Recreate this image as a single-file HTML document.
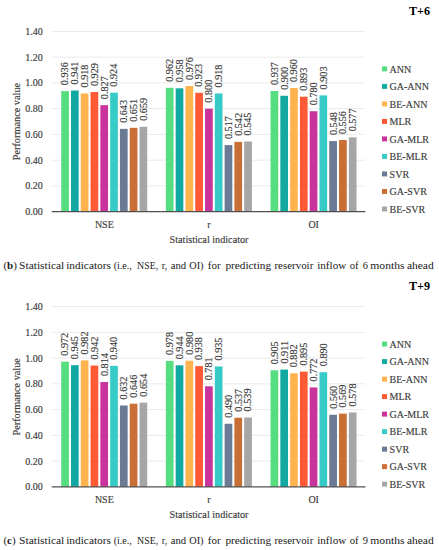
<!DOCTYPE html>
<html><head><meta charset="utf-8"><style>
html,body{margin:0;padding:0;background:#fff;width:439px;height:550px;overflow:hidden}
svg{display:block;font-family:"Liberation Serif",serif}
.t{stroke:#333;stroke-width:0.15}
</style></head><body>
<svg width="439" height="550" viewBox="0 0 439 550">
<rect width="439" height="550" fill="#fff"/>
<line x1="51.5" x2="365.0" y1="185.90" y2="185.90" stroke="#EAEAEA" stroke-width="1"/>
<line x1="51.5" x2="365.0" y1="160.15" y2="160.15" stroke="#EAEAEA" stroke-width="1"/>
<line x1="51.5" x2="365.0" y1="134.40" y2="134.40" stroke="#EAEAEA" stroke-width="1"/>
<line x1="51.5" x2="365.0" y1="108.65" y2="108.65" stroke="#EAEAEA" stroke-width="1"/>
<line x1="51.5" x2="365.0" y1="82.90" y2="82.90" stroke="#EAEAEA" stroke-width="1"/>
<line x1="51.5" x2="365.0" y1="57.15" y2="57.15" stroke="#EAEAEA" stroke-width="1"/>
<line x1="51.5" x2="365.0" y1="31.40" y2="31.40" stroke="#EAEAEA" stroke-width="1"/>
<text x="42.8" y="215.05" text-anchor="end" font-size="10.0" fill="#404040" class="t">0.00</text>
<text x="42.8" y="189.30" text-anchor="end" font-size="10.0" fill="#404040" class="t">0.20</text>
<text x="42.8" y="163.55" text-anchor="end" font-size="10.0" fill="#404040" class="t">0.40</text>
<text x="42.8" y="137.80" text-anchor="end" font-size="10.0" fill="#404040" class="t">0.60</text>
<text x="42.8" y="112.05" text-anchor="end" font-size="10.0" fill="#404040" class="t">0.80</text>
<text x="42.8" y="86.30" text-anchor="end" font-size="10.0" fill="#404040" class="t">1.00</text>
<text x="42.8" y="60.55" text-anchor="end" font-size="10.0" fill="#404040" class="t">1.20</text>
<text x="42.8" y="34.80" text-anchor="end" font-size="10.0" fill="#404040" class="t">1.40</text>
<rect x="61.20" y="91.14" width="7.7" height="120.51" fill="#55DD80"/>
<text transform="translate(68.45,85.14) rotate(-90)" font-size="10.2" fill="#404040" class="t">0.936</text>
<rect x="70.99" y="90.50" width="7.7" height="121.15" fill="#12A9A2"/>
<text transform="translate(78.24,84.50) rotate(-90)" font-size="10.2" fill="#404040" class="t">0.941</text>
<rect x="80.78" y="93.46" width="7.7" height="118.19" fill="#FFB34F"/>
<text transform="translate(88.03,87.46) rotate(-90)" font-size="10.2" fill="#404040" class="t">0.918</text>
<rect x="90.57" y="92.04" width="7.7" height="119.61" fill="#FF5A35"/>
<text transform="translate(97.82,86.04) rotate(-90)" font-size="10.2" fill="#404040" class="t">0.929</text>
<rect x="100.36" y="105.17" width="7.7" height="106.48" fill="#C8339C"/>
<text transform="translate(107.61,99.17) rotate(-90)" font-size="10.2" fill="#404040" class="t">0.827</text>
<rect x="110.15" y="92.69" width="7.7" height="118.97" fill="#37CBC8"/>
<text transform="translate(117.40,86.69) rotate(-90)" font-size="10.2" fill="#404040" class="t">0.924</text>
<rect x="119.94" y="128.86" width="7.7" height="82.79" fill="#6B7A95"/>
<text transform="translate(127.19,122.86) rotate(-90)" font-size="10.2" fill="#404040" class="t">0.643</text>
<rect x="129.73" y="127.83" width="7.7" height="83.82" fill="#C96E34"/>
<text transform="translate(136.98,121.83) rotate(-90)" font-size="10.2" fill="#404040" class="t">0.651</text>
<rect x="139.52" y="126.80" width="7.7" height="84.85" fill="#A6A6A6"/>
<text transform="translate(146.77,120.80) rotate(-90)" font-size="10.2" fill="#404040" class="t">0.659</text>
<text x="104.33" y="227.80" text-anchor="middle" font-size="10.0" fill="#404040" class="t">NSE</text>
<rect x="165.87" y="87.79" width="7.7" height="123.86" fill="#55DD80"/>
<text transform="translate(173.12,81.79) rotate(-90)" font-size="10.2" fill="#404040" class="t">0.962</text>
<rect x="175.66" y="88.31" width="7.7" height="123.34" fill="#12A9A2"/>
<text transform="translate(182.91,82.31) rotate(-90)" font-size="10.2" fill="#404040" class="t">0.958</text>
<rect x="185.45" y="85.99" width="7.7" height="125.66" fill="#FFB34F"/>
<text transform="translate(192.70,79.99) rotate(-90)" font-size="10.2" fill="#404040" class="t">0.976</text>
<rect x="195.24" y="92.81" width="7.7" height="118.84" fill="#FF5A35"/>
<text transform="translate(202.49,86.81) rotate(-90)" font-size="10.2" fill="#404040" class="t">0.923</text>
<rect x="205.03" y="108.65" width="7.7" height="103.00" fill="#C8339C"/>
<text transform="translate(212.28,102.65) rotate(-90)" font-size="10.2" fill="#404040" class="t">0.800</text>
<rect x="214.82" y="93.46" width="7.7" height="118.19" fill="#37CBC8"/>
<text transform="translate(222.07,87.46) rotate(-90)" font-size="10.2" fill="#404040" class="t">0.918</text>
<rect x="224.61" y="145.09" width="7.7" height="66.56" fill="#6B7A95"/>
<text transform="translate(231.86,139.09) rotate(-90)" font-size="10.2" fill="#404040" class="t">0.517</text>
<rect x="234.40" y="141.87" width="7.7" height="69.78" fill="#C96E34"/>
<text transform="translate(241.65,135.87) rotate(-90)" font-size="10.2" fill="#404040" class="t">0.542</text>
<rect x="244.19" y="141.48" width="7.7" height="70.17" fill="#A6A6A6"/>
<text transform="translate(251.44,135.48) rotate(-90)" font-size="10.2" fill="#404040" class="t">0.545</text>
<text x="209.00" y="227.80" text-anchor="middle" font-size="10.0" fill="#404040" class="t">r</text>
<rect x="270.53" y="91.01" width="7.7" height="120.64" fill="#55DD80"/>
<text transform="translate(277.78,85.01) rotate(-90)" font-size="10.2" fill="#404040" class="t">0.937</text>
<rect x="280.32" y="95.78" width="7.7" height="115.88" fill="#12A9A2"/>
<text transform="translate(287.57,89.78) rotate(-90)" font-size="10.2" fill="#404040" class="t">0.900</text>
<rect x="290.11" y="88.05" width="7.7" height="123.60" fill="#FFB34F"/>
<text transform="translate(297.36,82.05) rotate(-90)" font-size="10.2" fill="#404040" class="t">0.960</text>
<rect x="299.90" y="96.68" width="7.7" height="114.97" fill="#FF5A35"/>
<text transform="translate(307.15,90.68) rotate(-90)" font-size="10.2" fill="#404040" class="t">0.893</text>
<rect x="309.69" y="111.23" width="7.7" height="100.42" fill="#C8339C"/>
<text transform="translate(316.94,105.23) rotate(-90)" font-size="10.2" fill="#404040" class="t">0.780</text>
<rect x="319.48" y="95.39" width="7.7" height="116.26" fill="#37CBC8"/>
<text transform="translate(326.73,89.39) rotate(-90)" font-size="10.2" fill="#404040" class="t">0.903</text>
<rect x="329.27" y="141.09" width="7.7" height="70.56" fill="#6B7A95"/>
<text transform="translate(336.52,135.09) rotate(-90)" font-size="10.2" fill="#404040" class="t">0.548</text>
<rect x="339.06" y="140.06" width="7.7" height="71.59" fill="#C96E34"/>
<text transform="translate(346.31,134.06) rotate(-90)" font-size="10.2" fill="#404040" class="t">0.556</text>
<rect x="348.85" y="137.36" width="7.7" height="74.29" fill="#A6A6A6"/>
<text transform="translate(356.10,131.36) rotate(-90)" font-size="10.2" fill="#404040" class="t">0.577</text>
<text x="313.67" y="227.80" text-anchor="middle" font-size="10.0" fill="#404040" class="t">OI</text>
<line x1="51.8" x2="365.5" y1="211.65" y2="211.65" stroke="#505050" stroke-width="1.4"/>
<text transform="translate(20.4,121.60) rotate(-90)" text-anchor="middle" font-size="10.3" fill="#404040" class="t">Performance value</text>
<text x="209.00" y="243.20" text-anchor="middle" font-size="10.2" fill="#404040" class="t">Statistical indicator</text>
<rect x="382.0" y="66.40" width="5.1" height="4.95" fill="#55DD80"/>
<text x="389.6" y="72.60" font-size="10.0" fill="#404040" class="t">ANN</text>
<rect x="382.0" y="83.91" width="5.1" height="4.95" fill="#12A9A2"/>
<text x="389.6" y="90.11" font-size="10.0" fill="#404040" class="t">GA-ANN</text>
<rect x="382.0" y="101.42" width="5.1" height="4.95" fill="#FFB34F"/>
<text x="389.6" y="107.62" font-size="10.0" fill="#404040" class="t">BE-ANN</text>
<rect x="382.0" y="118.93" width="5.1" height="4.95" fill="#FF5A35"/>
<text x="389.6" y="125.13" font-size="10.0" fill="#404040" class="t">MLR</text>
<rect x="382.0" y="136.44" width="5.1" height="4.95" fill="#C8339C"/>
<text x="389.6" y="142.64" font-size="10.0" fill="#404040" class="t">GA-MLR</text>
<rect x="382.0" y="153.95" width="5.1" height="4.95" fill="#37CBC8"/>
<text x="389.6" y="160.15" font-size="10.0" fill="#404040" class="t">BE-MLR</text>
<rect x="382.0" y="171.46" width="5.1" height="4.95" fill="#6B7A95"/>
<text x="389.6" y="177.66" font-size="10.0" fill="#404040" class="t">SVR</text>
<rect x="382.0" y="188.97" width="5.1" height="4.95" fill="#C96E34"/>
<text x="389.6" y="195.17" font-size="10.0" fill="#404040" class="t">GA-SVR</text>
<rect x="382.0" y="206.48" width="5.1" height="4.95" fill="#A6A6A6"/>
<text x="389.6" y="212.68" font-size="10.0" fill="#404040" class="t">BE-SVR</text>
<text transform="translate(430.0,14.80) scale(0.9,1)" text-anchor="end" font-size="13.5" font-weight="bold" fill="#000">T+6</text>
<text x="3.4" y="268.80" font-size="11.0" fill="#1a1a1a">(<tspan font-weight="bold">b</tspan>)</text>
<text x="19.10" y="268.80" font-size="11.0" fill="#1a1a1a" textLength="45.20" lengthAdjust="spacingAndGlyphs">Statistical</text>
<text x="66.20" y="268.80" font-size="11.0" fill="#1a1a1a" textLength="44.80" lengthAdjust="spacingAndGlyphs">indicators</text>
<text x="113.70" y="268.80" font-size="11.0" fill="#1a1a1a" textLength="18.20" lengthAdjust="spacingAndGlyphs">(i.e.,</text>
<text x="137.10" y="268.80" font-size="11.0" fill="#1a1a1a" textLength="21.10" lengthAdjust="spacingAndGlyphs">NSE,</text>
<text x="161.70" y="268.80" font-size="11.0" fill="#1a1a1a" textLength="5.50" lengthAdjust="spacingAndGlyphs">r,</text>
<text x="170.70" y="268.80" font-size="11.0" fill="#1a1a1a" textLength="15.40" lengthAdjust="spacingAndGlyphs">and</text>
<text x="189.30" y="268.80" font-size="11.0" fill="#1a1a1a" textLength="14.20" lengthAdjust="spacingAndGlyphs">OI)</text>
<text x="207.80" y="268.80" font-size="11.0" fill="#1a1a1a" textLength="12.90" lengthAdjust="spacingAndGlyphs">for</text>
<text x="225.40" y="268.80" font-size="11.0" fill="#1a1a1a" textLength="45.70" lengthAdjust="spacingAndGlyphs">predicting</text>
<text x="274.40" y="268.80" font-size="11.0" fill="#1a1a1a" textLength="38.90" lengthAdjust="spacingAndGlyphs">reservoir</text>
<text x="317.20" y="268.80" font-size="11.0" fill="#1a1a1a" textLength="29.10" lengthAdjust="spacingAndGlyphs">inflow</text>
<text x="349.70" y="268.80" font-size="11.0" fill="#1a1a1a" textLength="8.90" lengthAdjust="spacingAndGlyphs">of</text>
<text x="362.70" y="268.80" font-size="11.0" fill="#1a1a1a" textLength="5.20" lengthAdjust="spacingAndGlyphs">6</text>
<text x="370.30" y="268.80" font-size="11.0" fill="#1a1a1a" textLength="34.20" lengthAdjust="spacingAndGlyphs">months</text>
<text x="406.90" y="268.80" font-size="11.0" fill="#1a1a1a" textLength="26.80" lengthAdjust="spacingAndGlyphs">ahead</text>
<line x1="51.5" x2="365.0" y1="461.10" y2="461.10" stroke="#EAEAEA" stroke-width="1"/>
<line x1="51.5" x2="365.0" y1="435.35" y2="435.35" stroke="#EAEAEA" stroke-width="1"/>
<line x1="51.5" x2="365.0" y1="409.60" y2="409.60" stroke="#EAEAEA" stroke-width="1"/>
<line x1="51.5" x2="365.0" y1="383.85" y2="383.85" stroke="#EAEAEA" stroke-width="1"/>
<line x1="51.5" x2="365.0" y1="358.10" y2="358.10" stroke="#EAEAEA" stroke-width="1"/>
<line x1="51.5" x2="365.0" y1="332.35" y2="332.35" stroke="#EAEAEA" stroke-width="1"/>
<line x1="51.5" x2="365.0" y1="306.60" y2="306.60" stroke="#EAEAEA" stroke-width="1"/>
<text x="42.8" y="490.25" text-anchor="end" font-size="10.0" fill="#404040" class="t">0.00</text>
<text x="42.8" y="464.50" text-anchor="end" font-size="10.0" fill="#404040" class="t">0.20</text>
<text x="42.8" y="438.75" text-anchor="end" font-size="10.0" fill="#404040" class="t">0.40</text>
<text x="42.8" y="413.00" text-anchor="end" font-size="10.0" fill="#404040" class="t">0.60</text>
<text x="42.8" y="387.25" text-anchor="end" font-size="10.0" fill="#404040" class="t">0.80</text>
<text x="42.8" y="361.50" text-anchor="end" font-size="10.0" fill="#404040" class="t">1.00</text>
<text x="42.8" y="335.75" text-anchor="end" font-size="10.0" fill="#404040" class="t">1.20</text>
<text x="42.8" y="310.00" text-anchor="end" font-size="10.0" fill="#404040" class="t">1.40</text>
<rect x="61.20" y="361.71" width="7.7" height="125.14" fill="#55DD80"/>
<text transform="translate(68.45,355.71) rotate(-90)" font-size="10.2" fill="#404040" class="t">0.972</text>
<rect x="70.99" y="365.18" width="7.7" height="121.67" fill="#12A9A2"/>
<text transform="translate(78.24,359.18) rotate(-90)" font-size="10.2" fill="#404040" class="t">0.945</text>
<rect x="80.78" y="360.42" width="7.7" height="126.43" fill="#FFB34F"/>
<text transform="translate(88.03,354.42) rotate(-90)" font-size="10.2" fill="#404040" class="t">0.982</text>
<rect x="90.57" y="365.57" width="7.7" height="121.28" fill="#FF5A35"/>
<text transform="translate(97.82,359.57) rotate(-90)" font-size="10.2" fill="#404040" class="t">0.942</text>
<rect x="100.36" y="382.05" width="7.7" height="104.80" fill="#C8339C"/>
<text transform="translate(107.61,376.05) rotate(-90)" font-size="10.2" fill="#404040" class="t">0.814</text>
<rect x="110.15" y="365.83" width="7.7" height="121.02" fill="#37CBC8"/>
<text transform="translate(117.40,359.83) rotate(-90)" font-size="10.2" fill="#404040" class="t">0.940</text>
<rect x="119.94" y="405.48" width="7.7" height="81.37" fill="#6B7A95"/>
<text transform="translate(127.19,399.48) rotate(-90)" font-size="10.2" fill="#404040" class="t">0.632</text>
<rect x="129.73" y="403.68" width="7.7" height="83.17" fill="#C96E34"/>
<text transform="translate(136.98,397.68) rotate(-90)" font-size="10.2" fill="#404040" class="t">0.646</text>
<rect x="139.52" y="402.65" width="7.7" height="84.20" fill="#A6A6A6"/>
<text transform="translate(146.77,396.65) rotate(-90)" font-size="10.2" fill="#404040" class="t">0.654</text>
<text x="104.33" y="503.00" text-anchor="middle" font-size="10.0" fill="#404040" class="t">NSE</text>
<rect x="165.87" y="360.93" width="7.7" height="125.92" fill="#55DD80"/>
<text transform="translate(173.12,354.93) rotate(-90)" font-size="10.2" fill="#404040" class="t">0.978</text>
<rect x="175.66" y="365.31" width="7.7" height="121.54" fill="#12A9A2"/>
<text transform="translate(182.91,359.31) rotate(-90)" font-size="10.2" fill="#404040" class="t">0.944</text>
<rect x="185.45" y="360.68" width="7.7" height="126.17" fill="#FFB34F"/>
<text transform="translate(192.70,354.68) rotate(-90)" font-size="10.2" fill="#404040" class="t">0.980</text>
<rect x="195.24" y="366.08" width="7.7" height="120.77" fill="#FF5A35"/>
<text transform="translate(202.49,360.08) rotate(-90)" font-size="10.2" fill="#404040" class="t">0.938</text>
<rect x="205.03" y="386.30" width="7.7" height="100.55" fill="#C8339C"/>
<text transform="translate(212.28,380.30) rotate(-90)" font-size="10.2" fill="#404040" class="t">0.781</text>
<rect x="214.82" y="366.47" width="7.7" height="120.38" fill="#37CBC8"/>
<text transform="translate(222.07,360.47) rotate(-90)" font-size="10.2" fill="#404040" class="t">0.935</text>
<rect x="224.61" y="423.76" width="7.7" height="63.09" fill="#6B7A95"/>
<text transform="translate(231.86,417.76) rotate(-90)" font-size="10.2" fill="#404040" class="t">0.490</text>
<rect x="234.40" y="417.71" width="7.7" height="69.14" fill="#C96E34"/>
<text transform="translate(241.65,411.71) rotate(-90)" font-size="10.2" fill="#404040" class="t">0.537</text>
<rect x="244.19" y="417.45" width="7.7" height="69.40" fill="#A6A6A6"/>
<text transform="translate(251.44,411.45) rotate(-90)" font-size="10.2" fill="#404040" class="t">0.539</text>
<text x="209.00" y="503.00" text-anchor="middle" font-size="10.0" fill="#404040" class="t">r</text>
<rect x="270.53" y="370.33" width="7.7" height="116.52" fill="#55DD80"/>
<text transform="translate(277.78,364.33) rotate(-90)" font-size="10.2" fill="#404040" class="t">0.905</text>
<rect x="280.32" y="369.56" width="7.7" height="117.29" fill="#12A9A2"/>
<text transform="translate(287.57,363.56) rotate(-90)" font-size="10.2" fill="#404040" class="t">0.911</text>
<rect x="290.11" y="373.29" width="7.7" height="113.56" fill="#FFB34F"/>
<text transform="translate(297.36,367.29) rotate(-90)" font-size="10.2" fill="#404040" class="t">0.882</text>
<rect x="299.90" y="371.62" width="7.7" height="115.23" fill="#FF5A35"/>
<text transform="translate(307.15,365.62) rotate(-90)" font-size="10.2" fill="#404040" class="t">0.895</text>
<rect x="309.69" y="387.46" width="7.7" height="99.39" fill="#C8339C"/>
<text transform="translate(316.94,381.46) rotate(-90)" font-size="10.2" fill="#404040" class="t">0.772</text>
<rect x="319.48" y="372.26" width="7.7" height="114.59" fill="#37CBC8"/>
<text transform="translate(326.73,366.26) rotate(-90)" font-size="10.2" fill="#404040" class="t">0.890</text>
<rect x="329.27" y="414.75" width="7.7" height="72.10" fill="#6B7A95"/>
<text transform="translate(336.52,408.75) rotate(-90)" font-size="10.2" fill="#404040" class="t">0.560</text>
<rect x="339.06" y="413.59" width="7.7" height="73.26" fill="#C96E34"/>
<text transform="translate(346.31,407.59) rotate(-90)" font-size="10.2" fill="#404040" class="t">0.569</text>
<rect x="348.85" y="412.43" width="7.7" height="74.42" fill="#A6A6A6"/>
<text transform="translate(356.10,406.43) rotate(-90)" font-size="10.2" fill="#404040" class="t">0.578</text>
<text x="313.67" y="503.00" text-anchor="middle" font-size="10.0" fill="#404040" class="t">OI</text>
<line x1="51.8" x2="365.5" y1="486.85" y2="486.85" stroke="#505050" stroke-width="1.4"/>
<text transform="translate(20.4,396.80) rotate(-90)" text-anchor="middle" font-size="10.3" fill="#404040" class="t">Performance value</text>
<text x="209.00" y="518.40" text-anchor="middle" font-size="10.2" fill="#404040" class="t">Statistical indicator</text>
<rect x="382.0" y="341.60" width="5.1" height="4.95" fill="#55DD80"/>
<text x="389.6" y="347.80" font-size="10.0" fill="#404040" class="t">ANN</text>
<rect x="382.0" y="359.11" width="5.1" height="4.95" fill="#12A9A2"/>
<text x="389.6" y="365.31" font-size="10.0" fill="#404040" class="t">GA-ANN</text>
<rect x="382.0" y="376.62" width="5.1" height="4.95" fill="#FFB34F"/>
<text x="389.6" y="382.82" font-size="10.0" fill="#404040" class="t">BE-ANN</text>
<rect x="382.0" y="394.13" width="5.1" height="4.95" fill="#FF5A35"/>
<text x="389.6" y="400.33" font-size="10.0" fill="#404040" class="t">MLR</text>
<rect x="382.0" y="411.64" width="5.1" height="4.95" fill="#C8339C"/>
<text x="389.6" y="417.84" font-size="10.0" fill="#404040" class="t">GA-MLR</text>
<rect x="382.0" y="429.15" width="5.1" height="4.95" fill="#37CBC8"/>
<text x="389.6" y="435.35" font-size="10.0" fill="#404040" class="t">BE-MLR</text>
<rect x="382.0" y="446.66" width="5.1" height="4.95" fill="#6B7A95"/>
<text x="389.6" y="452.86" font-size="10.0" fill="#404040" class="t">SVR</text>
<rect x="382.0" y="464.17" width="5.1" height="4.95" fill="#C96E34"/>
<text x="389.6" y="470.37" font-size="10.0" fill="#404040" class="t">GA-SVR</text>
<rect x="382.0" y="481.68" width="5.1" height="4.95" fill="#A6A6A6"/>
<text x="389.6" y="487.88" font-size="10.0" fill="#404040" class="t">BE-SVR</text>
<text transform="translate(430.0,290.00) scale(0.9,1)" text-anchor="end" font-size="13.5" font-weight="bold" fill="#000">T+9</text>
<text x="3.4" y="544.00" font-size="11.0" fill="#1a1a1a">(<tspan font-weight="bold">c</tspan>)</text>
<text x="19.10" y="544.00" font-size="11.0" fill="#1a1a1a" textLength="45.20" lengthAdjust="spacingAndGlyphs">Statistical</text>
<text x="66.20" y="544.00" font-size="11.0" fill="#1a1a1a" textLength="44.80" lengthAdjust="spacingAndGlyphs">indicators</text>
<text x="113.70" y="544.00" font-size="11.0" fill="#1a1a1a" textLength="18.20" lengthAdjust="spacingAndGlyphs">(i.e.,</text>
<text x="137.10" y="544.00" font-size="11.0" fill="#1a1a1a" textLength="21.10" lengthAdjust="spacingAndGlyphs">NSE,</text>
<text x="161.70" y="544.00" font-size="11.0" fill="#1a1a1a" textLength="5.50" lengthAdjust="spacingAndGlyphs">r,</text>
<text x="170.70" y="544.00" font-size="11.0" fill="#1a1a1a" textLength="15.40" lengthAdjust="spacingAndGlyphs">and</text>
<text x="189.30" y="544.00" font-size="11.0" fill="#1a1a1a" textLength="14.20" lengthAdjust="spacingAndGlyphs">OI)</text>
<text x="207.80" y="544.00" font-size="11.0" fill="#1a1a1a" textLength="12.90" lengthAdjust="spacingAndGlyphs">for</text>
<text x="225.40" y="544.00" font-size="11.0" fill="#1a1a1a" textLength="45.70" lengthAdjust="spacingAndGlyphs">predicting</text>
<text x="274.40" y="544.00" font-size="11.0" fill="#1a1a1a" textLength="38.90" lengthAdjust="spacingAndGlyphs">reservoir</text>
<text x="317.20" y="544.00" font-size="11.0" fill="#1a1a1a" textLength="29.10" lengthAdjust="spacingAndGlyphs">inflow</text>
<text x="349.70" y="544.00" font-size="11.0" fill="#1a1a1a" textLength="8.90" lengthAdjust="spacingAndGlyphs">of</text>
<text x="362.70" y="544.00" font-size="11.0" fill="#1a1a1a" textLength="5.20" lengthAdjust="spacingAndGlyphs">9</text>
<text x="370.30" y="544.00" font-size="11.0" fill="#1a1a1a" textLength="34.20" lengthAdjust="spacingAndGlyphs">months</text>
<text x="406.90" y="544.00" font-size="11.0" fill="#1a1a1a" textLength="26.80" lengthAdjust="spacingAndGlyphs">ahead</text>
</svg>
</body></html>
